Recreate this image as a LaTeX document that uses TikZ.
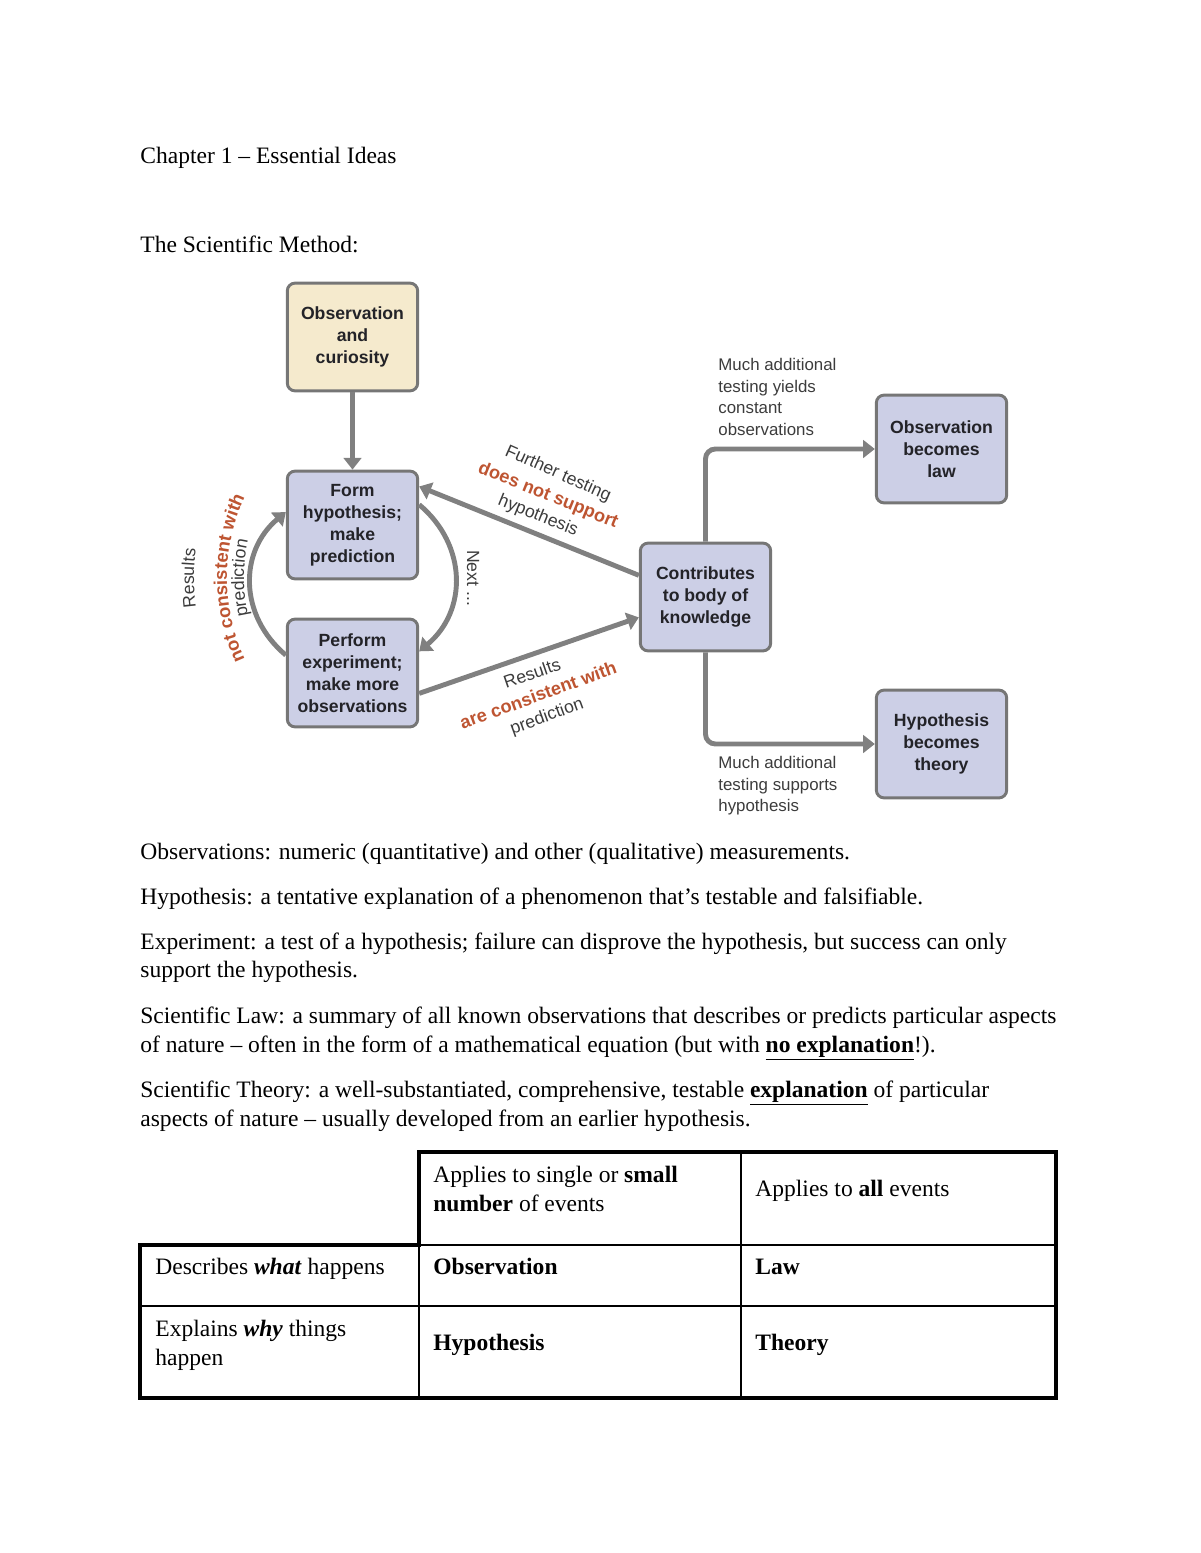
\documentclass[tikz,border=0pt]{standalone}
\usepackage{fontspec}
\setmainfont{Liberation Serif}
\newfontfamily\diagfont{Liberation Sans}
\usetikzlibrary{arrows.meta,decorations.text}
\definecolor{boxblue}{RGB}{204,207,230}
\definecolor{boxbeige}{RGB}{245,234,205}
\definecolor{boxedge}{RGB}{118,118,118}
\definecolor{arrowgray}{RGB}{128,128,128}
\definecolor{labred}{RGB}{190,85,50}
\definecolor{labgray}{RGB}{60,60,60}
\definecolor{boxtext}{RGB}{35,35,40}
\begin{document}
\begin{tikzpicture}[x=0.51pt,y=0.51pt,
  stepbox/.style={draw=boxedge, line width=1.5pt, rounded corners=4pt, fill=boxblue,
    minimum width=66.5pt, minimum height=55pt, align=center, inner sep=0pt,
    font=\diagfont\bfseries\fontsize{9}{11.2}\selectfont, text=boxtext},
  conn/.style={draw=arrowgray, line width=2.5pt, -{Triangle[length=6pt,width=9pt]}},
  lab/.style={font=\diagfont\fontsize{8.6}{11}\selectfont, text=labgray, inner sep=0pt, align=left},
  rlab/.style={font=\diagfont\fontsize{9}{11}\selectfont, text=labgray, inner sep=0pt},
  redlab/.style={font=\diagfont\bfseries\fontsize{9.3}{11}\selectfont, text=labred, inner sep=0pt},
  bodytext/.style={anchor=base west, inner sep=0pt, font=\fontsize{12}{14}\selectfont},
  cell/.style={anchor=base west, inner sep=0pt, font=\fontsize{12}{14}\selectfont},
  thickline/.style={line width=1.8pt},
  thinline/.style={line width=1pt}]
\useasboundingbox (0,0) rectangle (1200,-1553);

% heading text
\node[bodytext] (t1) at (140,-164) {Chapter 1 – Essential Ideas};
\node[bodytext] (t2) at (140,-253) {The Scientific Method:};

% boxes
\node[stepbox, fill=boxbeige] (obs) at (352.5,-337) {Observation\\and\\curiosity};
\node[stepbox] (form) at (352.5,-525) {Form\\hypothesis;\\make\\prediction};
\node[stepbox] (perf) at (352.5,-673) {Perform\\experiment;\\make more\\observations};
\node[stepbox] (contrib) at (705.5,-597) {Contributes\\to body of\\knowledge};
\node[stepbox] (law) at (941.5,-449) {Observation\\becomes\\law};
\node[stepbox] (theory) at (941.5,-744) {Hypothesis\\becomes\\theory};

% connectors
\draw[conn] (obs.south) -- (form.north);
\draw[conn] (contrib.162) -- (form.30);
\draw[conn] (perf.343) -- (contrib.197);
\draw[conn, rounded corners=5pt] (contrib.north) |- (law.west);
\draw[conn, rounded corners=5pt] (contrib.south) |- (theory.west);
\draw[conn] (perf.165) to[out=140, in=220, looseness=1.1] (form.169);
\draw[conn] (form.17) to[out=-40, in=40, looseness=1.1] (perf.18);

% labels
\node[lab, anchor=west] (l1) at (718,-397) {Much additional\\testing yields\\constant\\observations};
\node[lab, anchor=west] (l2) at (718,-786) {Much additional\\testing supports\\hypothesis};

\node[rlab, rotate=-24] (f1) at (558,-474) {Further testing};
\node[redlab, rotate=-22] (f2) at (548,-496) {does not support};
\node[rlab, rotate=-22] (f3) at (538,-516) {hypothesis};

\node[rlab, rotate=19] (c1) at (532,-673) {Results};
\node[redlab, rotate=20] (c2) at (538,-695) {are consistent with};
\node[rlab, rotate=20] (c3) at (547,-717) {prediction};

\node[rlab, rotate=-90] (nx) at (473,-578) {Next ...};

\path[decorate, decoration={text along path, text align=center,
   text={|\diagfont\fontsize{9}{11}\selectfont\color{labgray}|Results}}]
   (420,-578) ++(196:226) arc[start angle=196, end angle=164, radius=226];
\path[decorate, decoration={text along path, text align=center,
   text={|\diagfont\bfseries\fontsize{9.4}{11}\selectfont\color{labred}|not consistent with}}]
   (420,-578) ++(209:193) arc[start angle=209, end angle=151, radius=193];
\path[decorate, decoration={text along path, text align=center,
   text={|\diagfont\fontsize{9}{11}\selectfont\color{labgray}|prediction}}]
   (420,-578) ++(200:176) arc[start angle=200, end angle=160, radius=176];

% paragraphs
\node[bodytext] (p1) at (140,-859) {Observations: numeric (quantitative) and other (qualitative) measurements.};
\node[bodytext] (p2) at (140,-904) {Hypothesis: a tentative explanation of a phenomenon that’s testable and falsifiable.};
\node[bodytext] (p3a) at (140,-949) {Experiment: a test of a hypothesis; failure can disprove the hypothesis, but success can only};
\node[bodytext] (p3b) at (140,-977) {support the hypothesis.};
\node[bodytext] (p4a) at (140,-1023) {Scientific Law: a summary of all known observations that describes or predicts particular aspects};
\node[bodytext] (p4b) at (140,-1052) {of nature – often in the form of a mathematical equation (but with \underline{\textbf{no explanation}}!).};
\node[bodytext] (p5a) at (140,-1097) {Scientific Theory: a well-substantiated, comprehensive, testable \underline{\textbf{explanation}} of particular};
\node[bodytext] (p5b) at (140,-1126) {aspects of nature – usually developed from an earlier hypothesis.};

% table
\draw[thickline] (419,-1152) -- (1056,-1152) -- (1056,-1398) -- (140,-1398) -- (140,-1245) -- (419,-1245) -- cycle;
\draw[thinline] (419,-1245) -- (1056,-1245);
\draw[thinline] (140,-1306) -- (1056,-1306);
\draw[thinline] (419,-1245) -- (419,-1398);
\draw[thinline] (741,-1152) -- (741,-1398);

\node[cell] (h1a) at (433,-1182) {Applies to single or \textbf{small}};
\node[cell] (h1b) at (433,-1211) {\textbf{number} of events};
\node[cell] (h2) at (755,-1196) {Applies to \textbf{all} events};
\node[cell] (r1) at (155,-1274) {Describes \textbf{\textit{what}} happens};
\node[cell] (r1a) at (433,-1274) {\textbf{Observation}};
\node[cell] (r1b) at (755,-1274) {\textbf{Law}};
\node[cell] (r2a) at (155,-1336) {Explains \textbf{\textit{why}} things};
\node[cell] (r2b) at (155,-1365) {happen};
\node[cell] (r2c) at (433,-1350) {\textbf{Hypothesis}};
\node[cell] (r2d) at (755,-1350) {\textbf{Theory}};
\end{tikzpicture}
\end{document}
